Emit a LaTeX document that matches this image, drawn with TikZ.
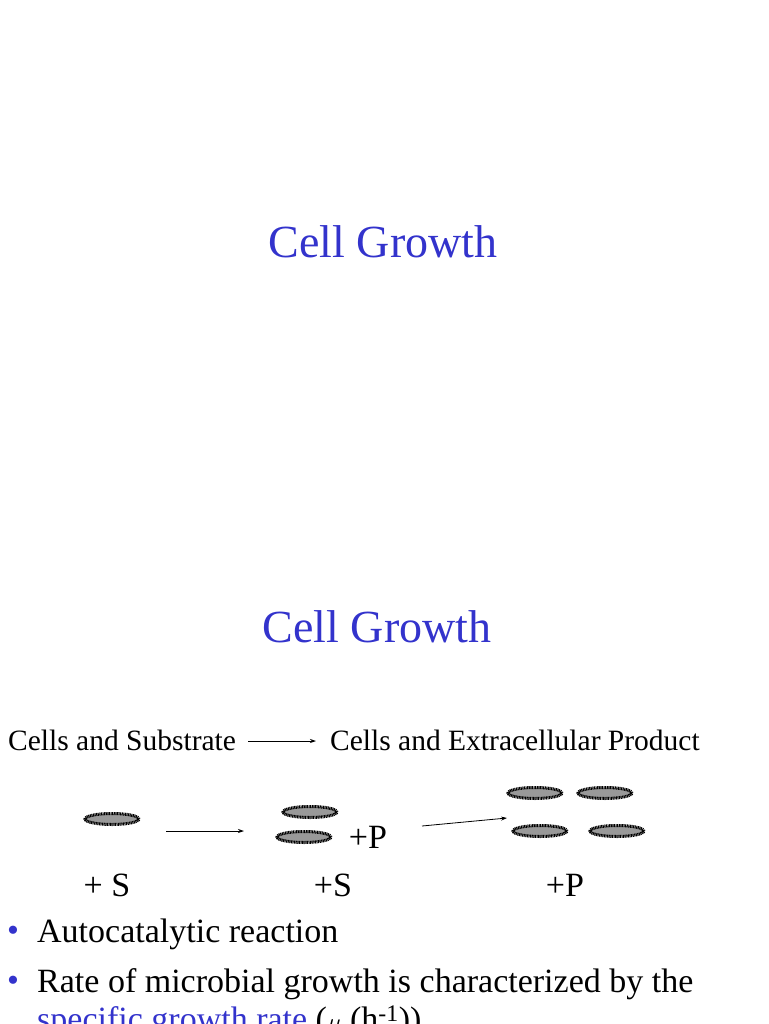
\documentclass[tikz,border=0pt]{standalone}
\usepackage{fontspec}
\setmainfont{Liberation Serif}
\usetikzlibrary{arrows.meta,calc,shapes.geometric}
\begin{document}
\begin{tikzpicture}[x=1pt,y=-1pt,
  title/.style={text=ttl,font=\fontsize{46}{54}\selectfont},
  body/.style={font=\fontsize{34}{40}\selectfont,anchor=west,inner sep=0},
  small/.style={font=\fontsize{29.5}{34}\selectfont,inner sep=0},
  cell/.style={ellipse,draw=black,line width=3pt,dash pattern=on 1pt off 0.6pt,fill=gray!80,minimum width=54,minimum height=11,inner sep=0},
  arr/.style={-{Stealth[length=6pt,width=4pt]},line width=0.8pt}]
\definecolor{ttl}{RGB}{51,51,204}
\useasboundingbox (0,0) rectangle (768,1024);
\clip (0,0) rectangle (768,1024);
\node[title] (t1) at (383,242) {Cell Growth};
\node[title] (t2) at (377,627) {Cell Growth};
\node[small,anchor=west] (cs) at (8,740) {Cells and Substrate};
\node[small,anchor=west] (cp) at (330,740) {Cells and Extracellular Product};
\draw[arr] ($(cs.east)+(12,1)$) -- ($(cp.west)+(-14,1)$);
\node[cell] (c1) at (112,819) {};
\node[cell] (c2) at (310,812) {};
\node[cell] (c3) at (304,837) {};
\node[cell] (c4) at (535,793) {};
\node[cell] (c5) at (605,793) {};
\node[cell] (c6) at (540,831) {};
\node[cell] (c7) at (617,831) {};
\coordinate (p1) at (166,831); \coordinate (p2) at (244,831);
\coordinate (p3) at (422,826); \coordinate (p4) at (507,818);
\draw[arr] (p1) -- (p2);
\draw[arr] (p3) -- (p4);
\node[body,anchor=center] (pp) at (368,837) {+P};
\node[body,anchor=center] (s1) at (107,885) {+ S};
\node[body,anchor=center] (s2) at (333,885) {+S};
\node[body,anchor=center] (s3) at (565,885) {+P};
\node[body,text=ttl] (b1) at (7,934) {•};
\node[body] (l1) at (37,934) {Autocatalytic reaction};
\node[body,text=ttl] (b2) at (7,984) {•};
\node[body] (l2) at (37,984) {Rate of microbial growth is characterized by the};
\node[body] (l3) at (37,1022) {\textcolor{ttl}{specific growth rate} ($\mu$ (h\textsuperscript{-1}))};
\end{tikzpicture}
\end{document}
